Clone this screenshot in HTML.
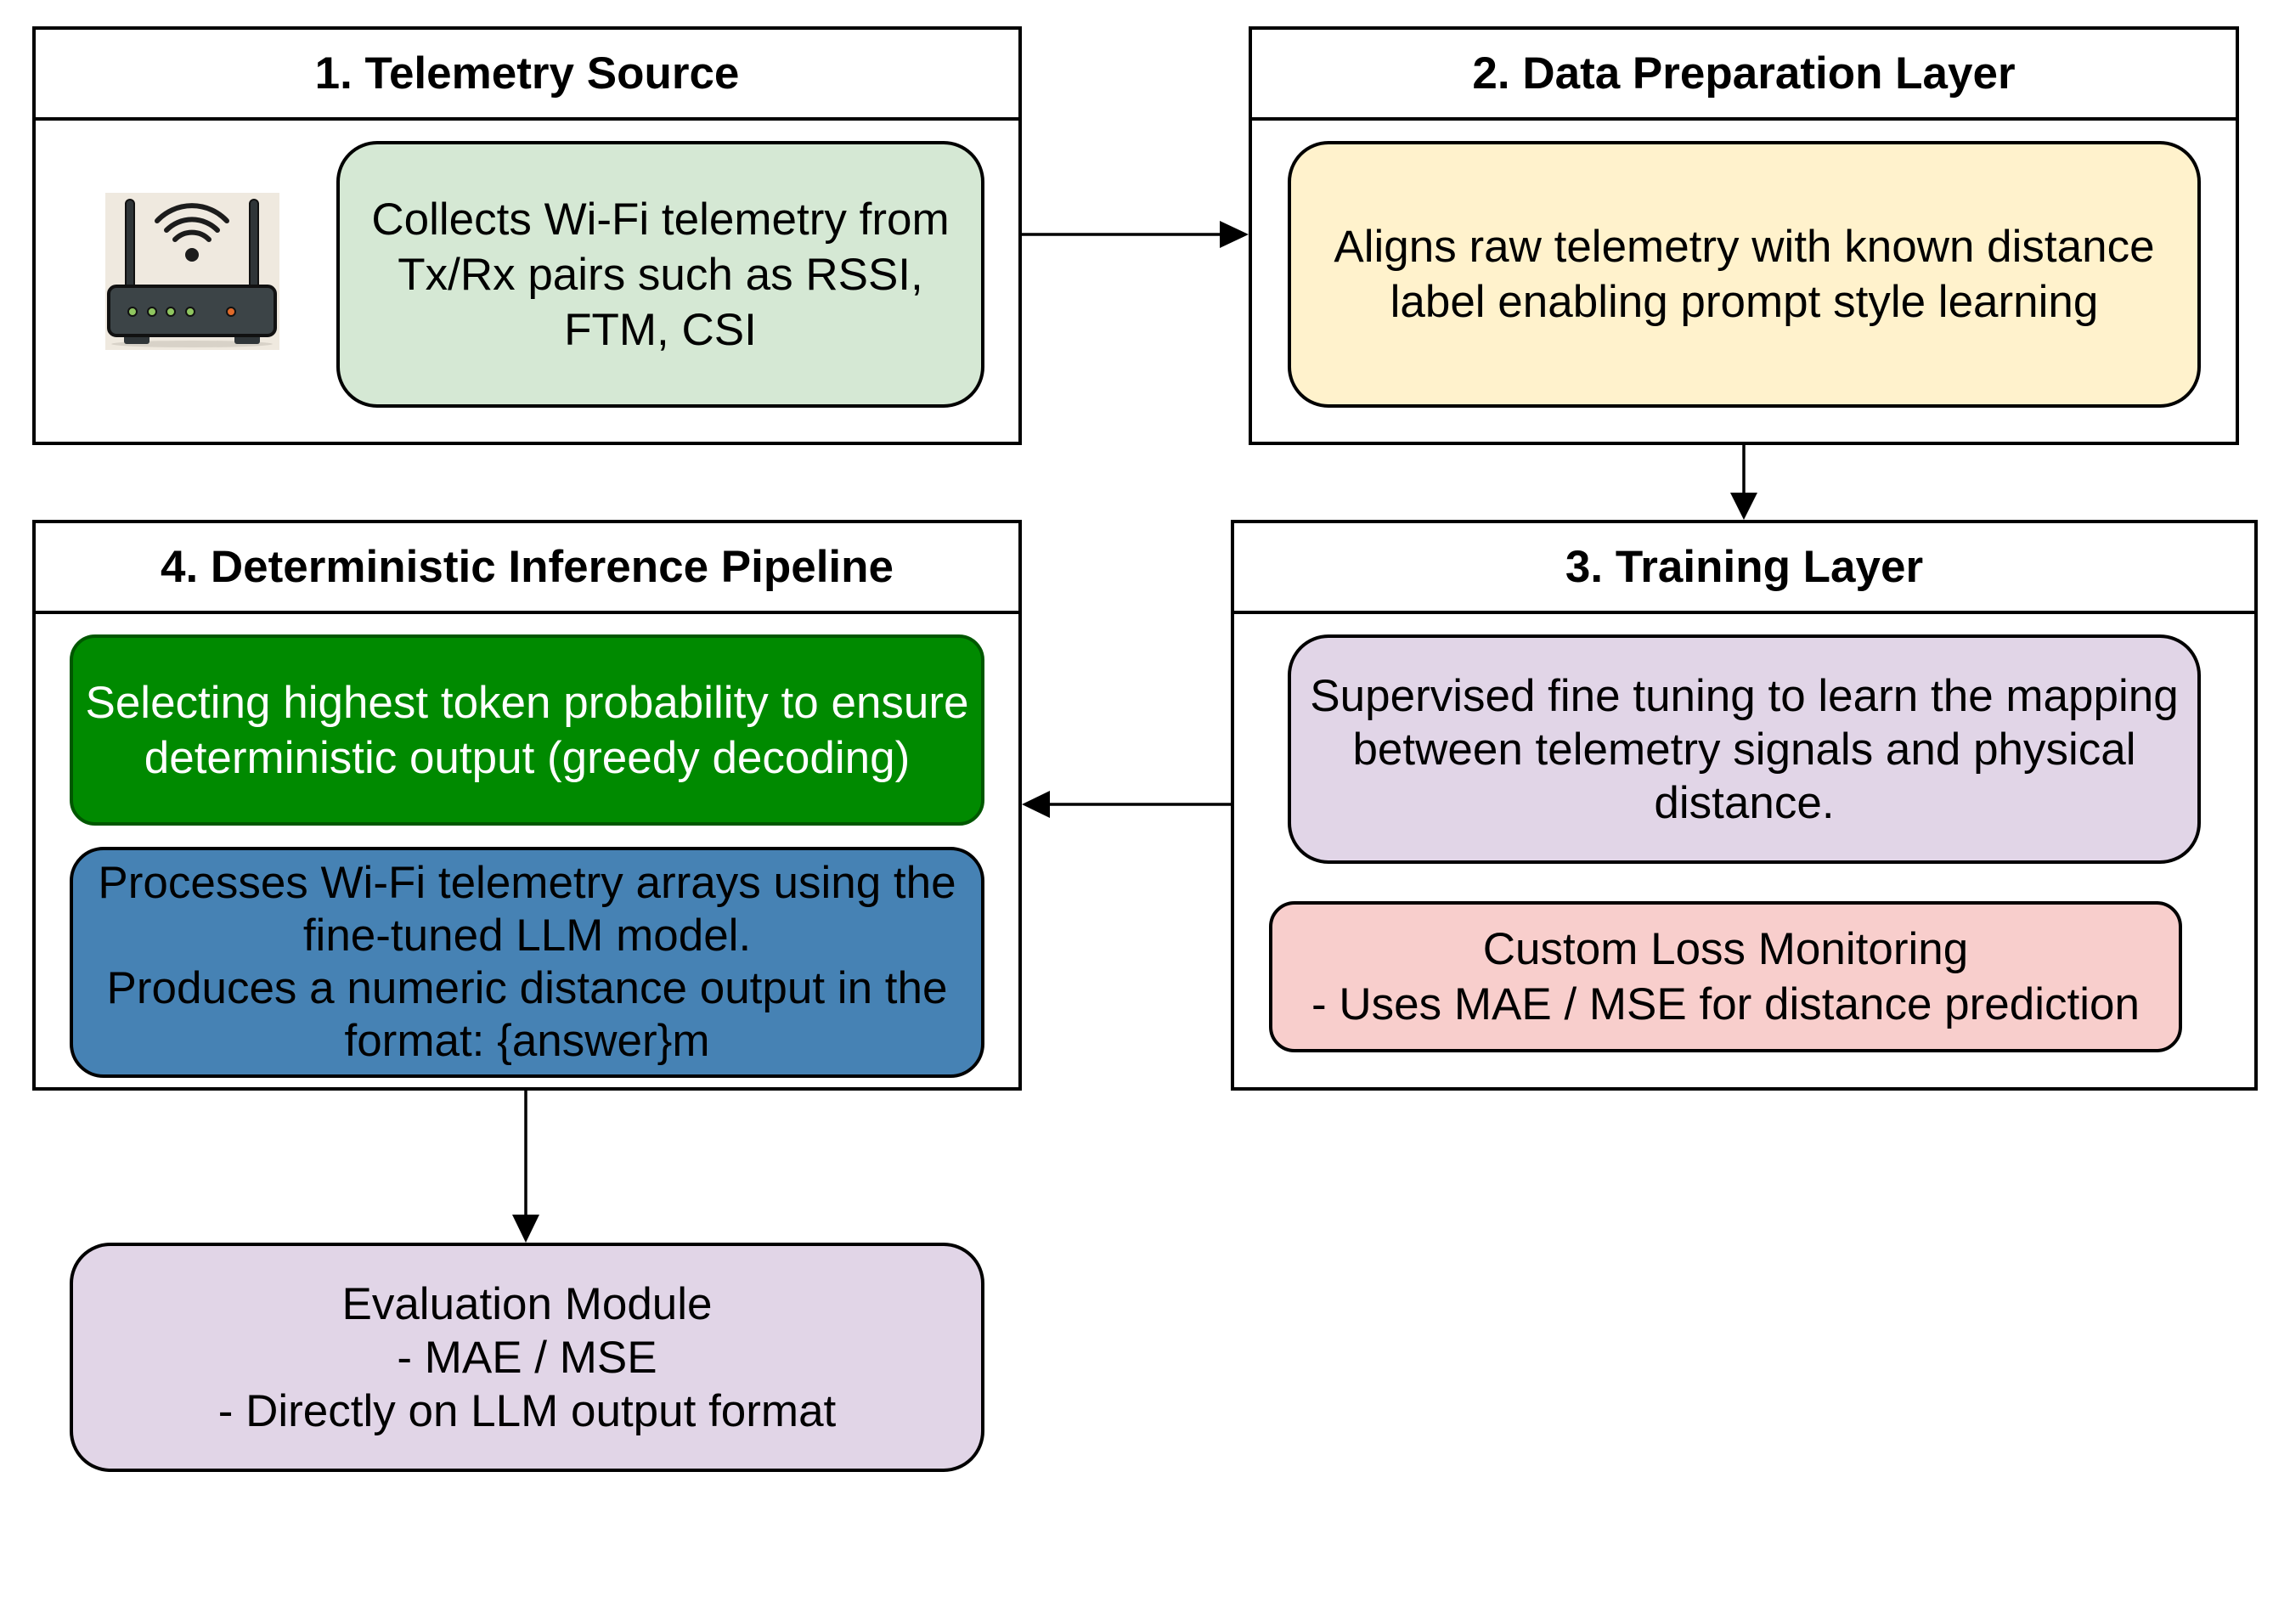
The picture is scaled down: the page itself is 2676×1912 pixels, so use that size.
<!DOCTYPE html>
<html><head><meta charset="utf-8"><style>
body{margin:0;width:2676px;height:1912px;background:#fff;position:relative;overflow:hidden;font-family:"Liberation Sans",Arial,sans-serif;}
.c{position:absolute;border:4px solid #000;box-sizing:border-box;background:#fff;}
.h{position:absolute;left:0;right:0;top:0;height:103px;border-bottom:4px solid #000;display:flex;align-items:center;justify-content:center;font-weight:bold;font-size:53px;}
.b{position:absolute;border:4px solid #000;box-sizing:border-box;border-radius:48px;display:flex;align-items:center;justify-content:center;text-align:center;font-size:53px;line-height:65px;white-space:nowrap;}
</style></head><body>
<div class="c" style="left:38px;top:31px;width:1165px;height:493px"><div class="h">1. Telemetry Source</div></div>
<div class="c" style="left:1470px;top:31px;width:1166px;height:493px"><div class="h">2. Data Preparation Layer</div></div>
<div class="c" style="left:1449px;top:612px;width:1209px;height:672px"><div class="h">3. Training Layer</div></div>
<div class="c" style="left:38px;top:612px;width:1165px;height:672px"><div class="h">4. Deterministic Inference Pipeline</div></div>

<svg style="position:absolute;left:124px;top:227px" width="205" height="185" viewBox="0 0 205 185">
<rect width="205" height="185" fill="#efe9df"/>
<ellipse cx="102" cy="178" rx="95" ry="4" fill="#d8d2c8"/>
<rect x="24" y="8" width="10" height="110" rx="5" fill="#2f3538" stroke="#111" stroke-width="2"/>
<rect x="170" y="8" width="10" height="110" rx="5" fill="#2f3538" stroke="#111" stroke-width="2"/>
<rect x="22" y="160" width="30" height="18" rx="3" fill="#2f3538"/>
<rect x="152" y="160" width="30" height="18" rx="3" fill="#2f3538"/>
<rect x="4" y="110" width="196" height="58" rx="9" fill="#3c4447" stroke="#111" stroke-width="4"/>
<circle cx="32" cy="140" r="5" fill="#8fc660" stroke="#111" stroke-width="2"/>
<circle cx="55" cy="140" r="5" fill="#8fc660" stroke="#111" stroke-width="2"/>
<circle cx="77" cy="140" r="5" fill="#8fc660" stroke="#111" stroke-width="2"/>
<circle cx="100" cy="140" r="5" fill="#8fc660" stroke="#111" stroke-width="2"/>
<circle cx="148" cy="140" r="5" fill="#e06a2a" stroke="#111" stroke-width="2"/>
<circle cx="102" cy="73" r="8" fill="#1c1c1c"/>
<g fill="none" stroke="#1c1c1c" stroke-width="6" stroke-linecap="round">
<path d="M82 55 A28 28 0 0 1 122 55"/>
<path d="M72 44 A42 42 0 0 1 132 44"/>
<path d="M61 33 A56 56 0 0 1 143 33"/>
</g></svg>

<div class="b" style="left:396px;top:166px;width:763px;height:314px;background:#d5e8d4">Collects Wi-Fi telemetry from<br>Tx/Rx pairs such as RSSI,<br>FTM, CSI</div>
<div class="b" style="left:1516px;top:166px;width:1075px;height:314px;background:#fff2cc">Aligns raw telemetry with known distance<br>label enabling prompt style learning</div>
<div class="b" style="left:1516px;top:747px;width:1075px;height:270px;background:#e1d5e7;line-height:63px">Supervised fine tuning to learn the mapping<br>between telemetry signals and physical<br>distance.</div>
<div class="b" style="left:1494px;top:1061px;width:1075px;height:178px;background:#f8cecc;border-radius:30px">Custom Loss Monitoring<br>- Uses MAE / MSE for distance prediction</div>
<div class="b" style="left:82px;top:747px;width:1077px;height:225px;background:#008a00;color:#fff;border-color:#005700;border-radius:30px">Selecting highest token probability to ensure<br>deterministic output (greedy decoding)</div>
<div class="b" style="left:82px;top:997px;width:1077px;height:272px;background:#4682b4;line-height:62px;border-radius:40px">Processes Wi-Fi telemetry arrays using the<br>fine-tuned LLM model.<br>Produces a numeric distance output in the<br>format: {answer}m</div>
<div class="b" style="left:82px;top:1463px;width:1077px;height:270px;background:#e1d5e7;line-height:63px">Evaluation Module<br>- MAE / MSE<br>- Directly on LLM output format</div>

<svg style="position:absolute;left:0;top:0" width="2676" height="1912">
<g stroke="#000" stroke-width="3.5">
<line x1="1203" y1="276" x2="1440" y2="276"/>
<line x1="2053" y1="524" x2="2053" y2="585"/>
<line x1="1449" y1="947" x2="1230" y2="947"/>
<line x1="619" y1="1284" x2="619" y2="1436"/>
</g>
<g fill="#000">
<polygon points="1470,276 1436,260 1436,292"/>
<polygon points="2053,612 2037,580 2069,580"/>
<polygon points="1203,947 1236,931 1236,963"/>
<polygon points="619,1463 603,1430 635,1430"/>
</g></svg>
</body></html>
